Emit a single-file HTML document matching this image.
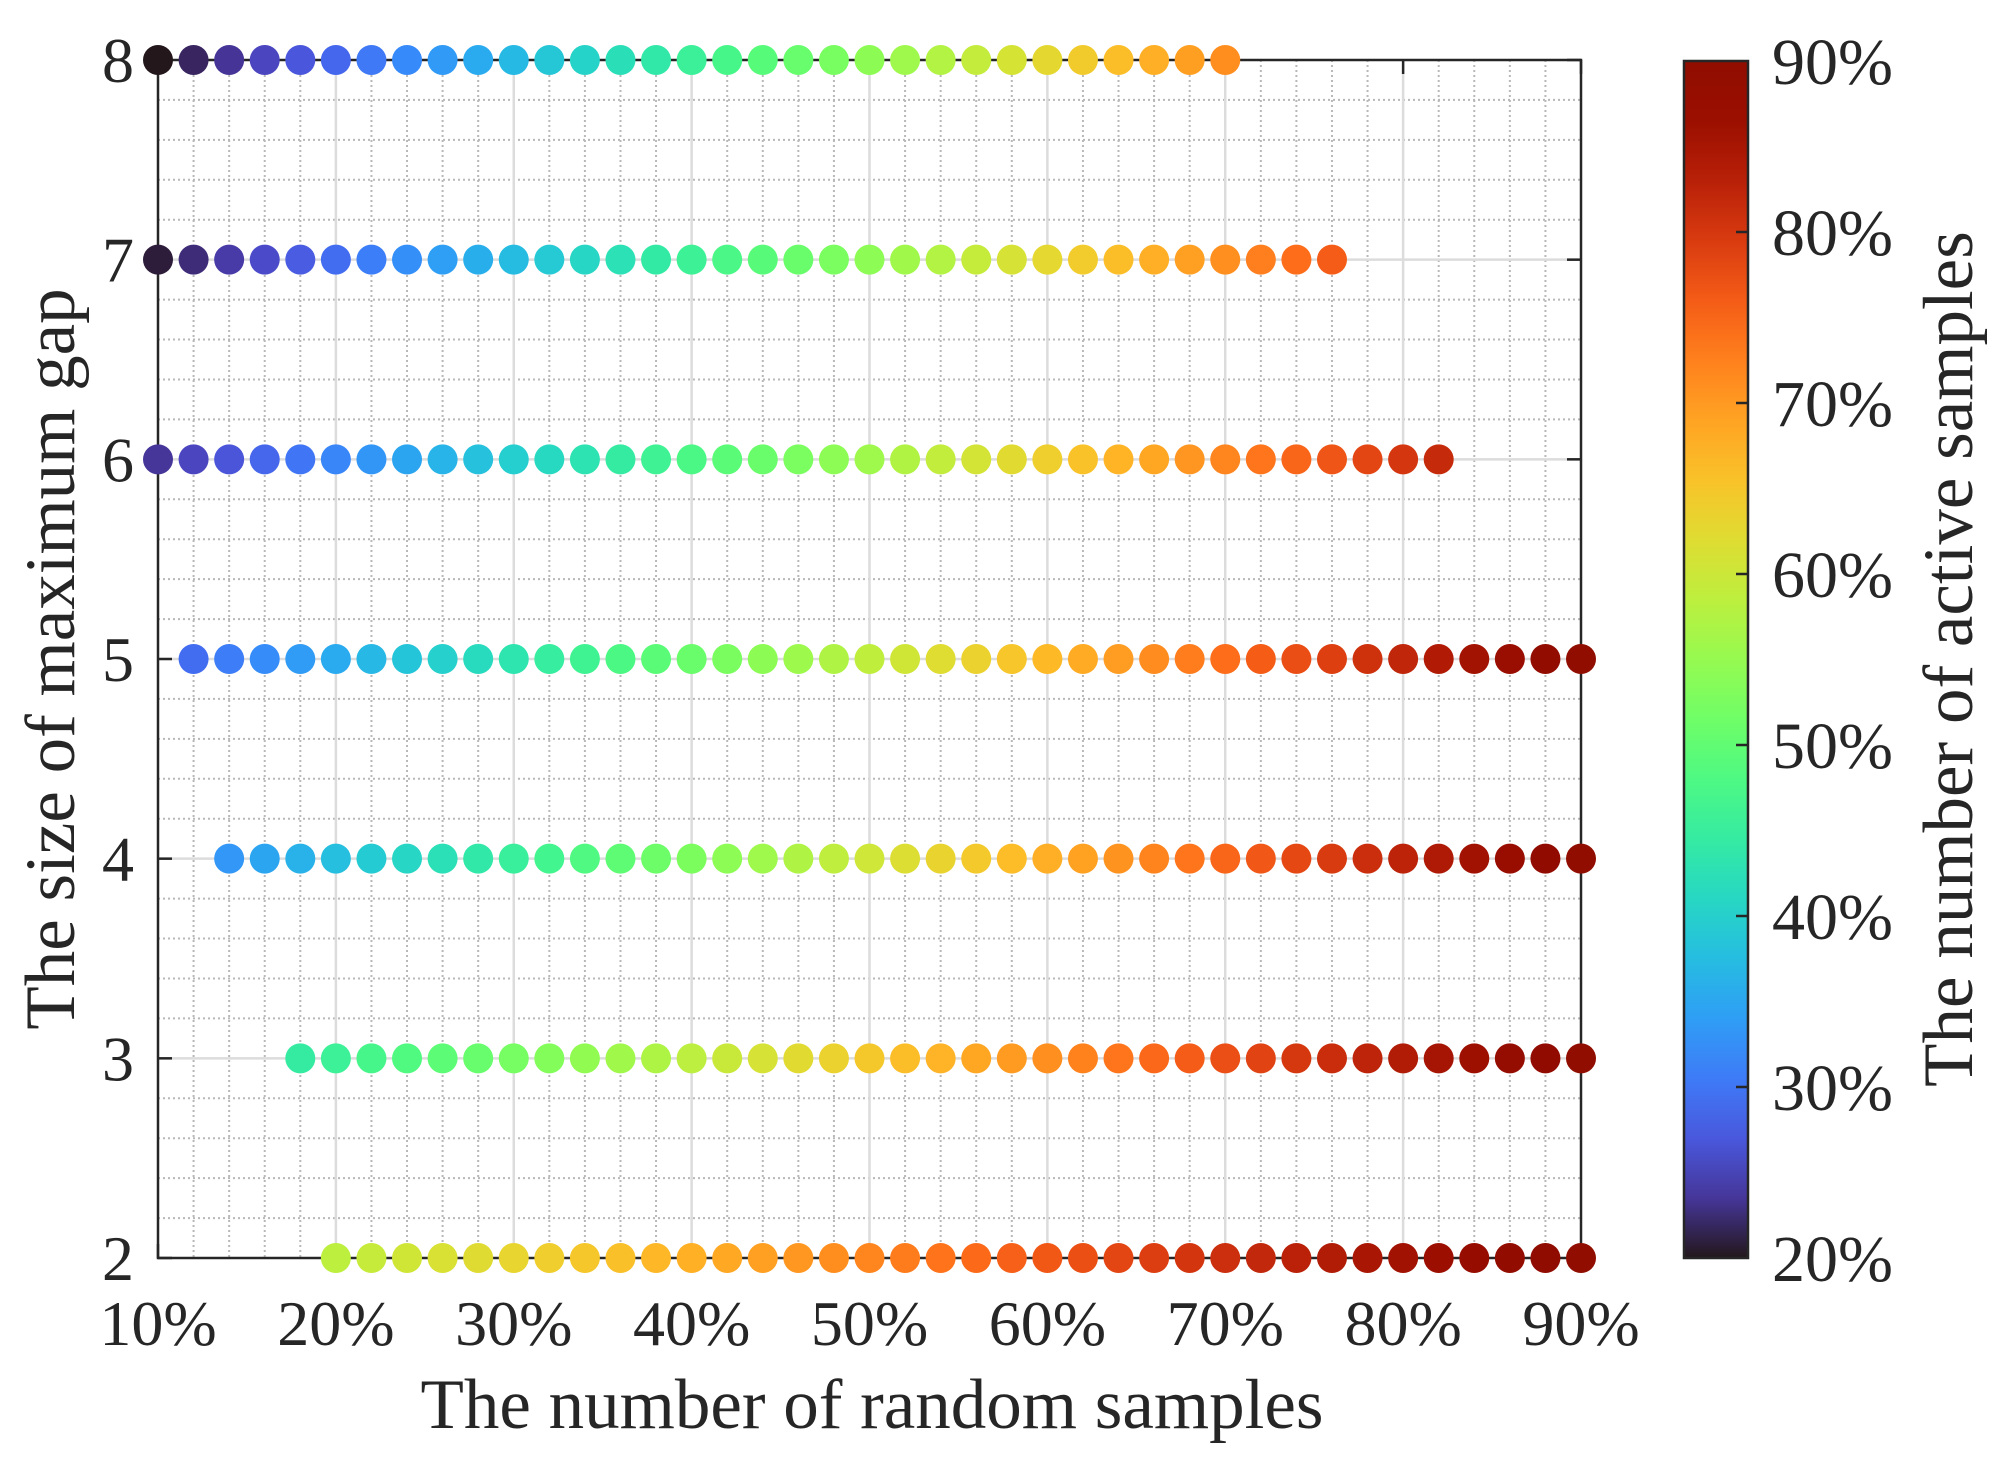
<!DOCTYPE html>
<html><head><meta charset="utf-8"><style>
html,body{margin:0;padding:0;background:#fff;}
svg{display:block;}
text{font-family:"Liberation Serif",serif;fill:#262626;}
</style></head><body>
<svg id="s" width="2001" height="1470" viewBox="0 0 2001 1470" xmlns="http://www.w3.org/2000/svg">
<defs><linearGradient id="cb" x1="0" y1="1" x2="0" y2="0"></linearGradient></defs>
<g id="grid"></g>
<g id="dots"></g>
<g id="lab"></g>
</svg>
<script>
const NS="http://www.w3.org/2000/svg";
function el(p,t,a,txt){const e=document.createElementNS(NS,t);for(const k in a)e.setAttribute(k,a[k]);if(txt!==undefined)e.textContent=txt;p.appendChild(e);return e;}
function turbo(t){t=Math.max(0,Math.min(1,t));
const r=0.13572138+t*(4.61539260+t*(-42.66032258+t*(132.13108234+t*(-152.94239396+t*59.28637943))));
const g=0.09140261+t*(2.19418839+t*(4.84296658+t*(-14.18503333+t*(4.27729857+t*2.82956604))));
const b=0.10667330+t*(12.64194608+t*(-60.58204836+t*(110.36276771+t*(-89.90310912+t*27.34824973))));
const c=v=>Math.round(255*Math.max(0,Math.min(1,v)));return `rgb(${c(r)},${c(g)},${c(b)})`;}
const L=158,R=1581,T=60,B=1258;
const X=p=>L+(p-10)*(R-L)/80, Y=v=>B-(v-2)*(B-T)/6;
const grid=document.getElementById('grid'),dots=document.getElementById('dots'),lab=document.getElementById('lab');
for(let p=10;p<=90;p+=2){if(p%10)el(grid,'line',{x1:X(p),x2:X(p),y1:T,y2:B,stroke:'#b8b8b8','stroke-width':2,'stroke-dasharray':'2,3'});}
for(let i=0;i<=30;i++){if(i%5)el(grid,'line',{x1:L,x2:R,y1:Y(2+i*0.2),y2:Y(2+i*0.2),stroke:'#b8b8b8','stroke-width':2,'stroke-dasharray':'2,3'});}
for(let p=20;p<90;p+=10)el(grid,'line',{x1:X(p),x2:X(p),y1:T,y2:B,stroke:'#dcdcdc','stroke-width':2.5});
for(let v=3;v<8;v++)el(grid,'line',{x1:L,x2:R,y1:Y(v),y2:Y(v),stroke:'#dcdcdc','stroke-width':2.5});
el(grid,'rect',{x:L,y:T,width:R-L,height:B-T,fill:'none',stroke:'#262626','stroke-width':2.5});
for(let p=10;p<=90;p+=10){el(grid,'line',{x1:X(p),x2:X(p),y1:B,y2:B-14,stroke:'#262626','stroke-width':2.5});el(grid,'line',{x1:X(p),x2:X(p),y1:T,y2:T+14,stroke:'#262626','stroke-width':2.5});}
for(let v=2;v<=8;v++){el(grid,'line',{x1:L,x2:L+14,y1:Y(v),y2:Y(v),stroke:'#262626','stroke-width':2.5});el(grid,'line',{x1:R,x2:R-14,y1:Y(v),y2:Y(v),stroke:'#262626','stroke-width':2.5});}
const rows=[[8,10,70,0.0,0.73],[7,10,76,0.01,0.8],[6,10,82,0.05,0.88],[5,12,90,0.13,1],[4,14,90,0.19,1],[3,18,90,0.35,1],[2,20,90,0.55,1]];
for(const [v,a,b,t0,t1] of rows){for(let p=a;p<=b;p+=2){const t=t0+(t1-t0)*(p-a)/(b-a);el(dots,'circle',{cx:X(p),cy:Y(v),r:15,fill:turbo(t)});}}
for(let v=2;v<=8;v++)el(lab,'text',{x:134,y:Y(v)+22,'font-size':64,'text-anchor':'end'},String(v));
for(let p=10;p<=90;p+=10)el(lab,'text',{x:X(p),y:1345,'font-size':64,'text-anchor':'middle'},p+'%');
el(lab,'text',{x:872,y:1428,'font-size':71,'text-anchor':'middle'},'The number of random samples');
el(lab,'text',{x:0,y:0,'font-size':71,'text-anchor':'middle',transform:'translate(74,659) rotate(-90)'},'The size of maximum gap');
const gr=document.querySelector('linearGradient');
for(let i=0;i<=20;i++)el(gr,'stop',{offset:(i/20),'stop-color':turbo(i/20)});
el(lab,'rect',{x:1684,y:61,width:64,height:1197,fill:'url(#cb)',stroke:'#262626','stroke-width':2.5});
for(let i=0;i<8;i++){const y=1258-i*(1197/7);
 if(i>0&&i<7)el(lab,'line',{x1:1748,x2:1736,y1:y,y2:y,stroke:'#262626','stroke-width':2.5});
 el(lab,'text',{x:1772,y:y+23,'font-size':66},(20+10*i)+'%');}
el(lab,'text',{x:0,y:0,'font-size':71,'text-anchor':'middle',transform:'translate(1972,659) rotate(-90)'},'The number of active samples');
</script>
</body></html>
